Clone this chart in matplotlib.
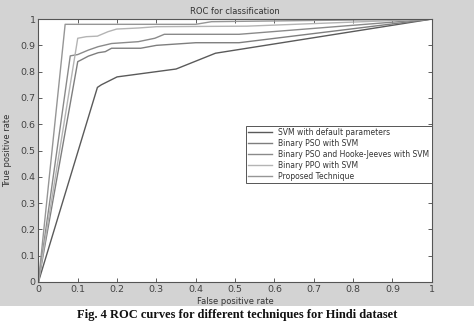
import numpy as np
import matplotlib
matplotlib.use('Agg')
import matplotlib.pyplot as plt
from matplotlib.patches import Rectangle

# ROC curves
fpr_svm = [0, 0.15, 0.16, 0.20, 0.30, 0.35, 0.45, 1.0]
tpr_svm = [0, 0.74, 0.75, 0.78, 0.80, 0.81, 0.87, 1.0]

fpr_bpso = [0, 0.10, 0.108, 0.127, 0.152, 0.17, 0.186, 0.26, 0.30, 0.40, 0.51, 1.0]
tpr_bpso = [0, 0.838, 0.844, 0.859, 0.872, 0.876, 0.889, 0.889, 0.90, 0.91, 0.91, 1.0]

fpr_hj = [0, 0.081, 0.10, 0.127, 0.152, 0.186, 0.254, 0.296, 0.32, 0.51, 1.0]
tpr_hj = [0, 0.86, 0.865, 0.882, 0.895, 0.907, 0.914, 0.927, 0.942, 0.942, 1.0]

fpr_ppo = [0, 0.10, 0.122, 0.15, 0.177, 0.199, 0.254, 0.30, 0.53, 1.0]
tpr_ppo = [0, 0.927, 0.933, 0.935, 0.952, 0.962, 0.966, 0.971, 0.973, 1.0]

fpr_prop = [0, 0.068, 0.40, 0.44, 1.0]
tpr_prop = [0, 0.98, 0.98, 0.99, 1.0]

labels = ['SVM with default parameters', 'Binary PSO with SVM',
          'Binary PSO and Hooke-Jeeves with SVM', 'Binary PPO with SVM',
          'Proposed Technique']
colors = ['#5a5a5a', '#7e7e7e', '#8a8a8a', '#b4b4b4', '#969696']
ticks = np.round(np.arange(0, 1.01, 0.1), 1)
tick_labels = ['0', '0.1', '0.2', '0.3', '0.4', '0.5', '0.6', '0.7', '0.8', '0.9', '1']

fig = plt.figure(figsize=(4.74, 3.23), dpi=100)
fig.patch.set_facecolor('white')
# gray matlab window background, white strip at the bottom for caption
fig.add_artist(Rectangle((0, 0.053), 1, 0.947, transform=fig.transFigure,
                         facecolor='#d3d3d3', edgecolor='none', zorder=0))

ax = fig.add_axes([0.081, 0.127, 0.83, 0.814])
ax.set_facecolor('white')

curves = [(fpr_svm, tpr_svm), (fpr_bpso, tpr_bpso), (fpr_hj, tpr_hj),
          (fpr_ppo, tpr_ppo), (fpr_prop, tpr_prop)]
for (fx, fy), lab, c in zip(curves, labels, colors):
    ax.plot(fx, fy, color=c, lw=1.0, label=lab)

ax.set_xlim(0, 1)
ax.set_ylim(0, 1)
ax.set_xticks(ticks)
ax.set_xticklabels(tick_labels)
ax.set_yticks(ticks)
ax.set_yticklabels(tick_labels)
ax.tick_params(direction='in', length=3, width=0.6, labelsize=6.8,
               colors='#444444', top=True, right=True, pad=2)
for s in ax.spines.values():
    s.set_color('#555555')
    s.set_linewidth(0.8)

ax.set_title('ROC for classification', fontsize=6, color='#333333', pad=4)
ax.set_xlabel('False positive rate', fontsize=6, color='#333333', labelpad=2)
ax.set_ylabel('True positive rate', fontsize=6, color='#333333', labelpad=6)

leg = ax.legend(loc='upper right', bbox_to_anchor=(1.0, 0.594), fontsize=5.5,
                fancybox=False, framealpha=1, edgecolor='#555555',
                handlelength=3.2, borderpad=0.3, labelspacing=0.25,
                handletextpad=0.8, borderaxespad=0)
leg.get_frame().set_linewidth(0.7)
for t in leg.get_texts():
    t.set_color('#333333')

fig.text(0.5, 0.006, 'Fig. 4 ROC curves for different techniques for Hindi dataset',
         ha='center', va='bottom', fontsize=9, fontweight='bold',
         family='Liberation Serif', color='#111111')

fig.savefig('out.png', dpi=100)
